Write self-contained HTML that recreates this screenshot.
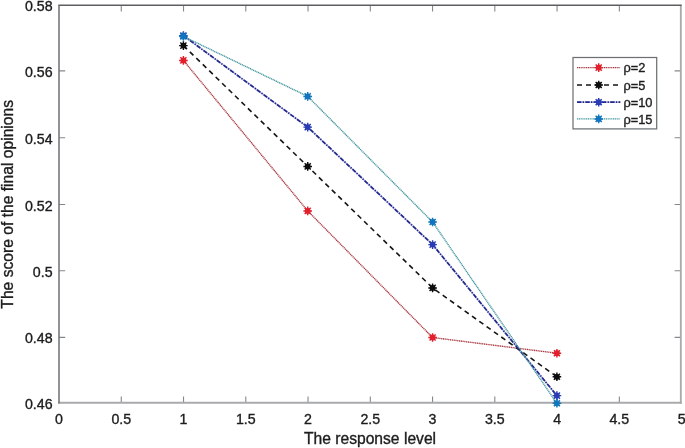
<!DOCTYPE html>
<html><head><meta charset="utf-8"><title>Chart</title>
<style>
html,body{margin:0;padding:0;background:#fff;}
svg{display:block;}
text{font-family:"Liberation Sans",sans-serif;fill:#1c1c1c;stroke:#1c1c1c;stroke-width:0.35px;}
.t{font-size:14.2px;}
.l{font-size:15.65px;}
.g{font-size:12.8px;}
</style></head><body>
<svg width="685" height="448" viewBox="0 0 685 448">
<rect x="0" y="0" width="685" height="448" fill="#ffffff"/>

<path d="M121.26 402.75V396.55M121.26 5.3V11.5M183.52 402.75V396.55M183.52 5.3V11.5M245.78 402.75V396.55M245.78 5.3V11.5M308.04 402.75V396.55M308.04 5.3V11.5M370.30 402.75V396.55M370.30 5.3V11.5M432.56 402.75V396.55M432.56 5.3V11.5M494.82 402.75V396.55M494.82 5.3V11.5M557.08 402.75V396.55M557.08 5.3V11.5M619.34 402.75V396.55M619.34 5.3V11.5M59.0 337.40H65.2M680.8 337.40H674.5999999999999M59.0 270.70H65.2M680.8 270.70H674.5999999999999M59.0 204.50H65.2M680.8 204.50H674.5999999999999M59.0 137.70H65.2M680.8 137.70H674.5999999999999M59.0 70.90H65.2M680.8 70.90H674.5999999999999" fill="none" stroke="#85888b" stroke-width="1.1"/>
<path d="M58.3 402.75H681.6999999999999" stroke="#a8aaac" stroke-width="1.9" fill="none"/>
<path d="M680.8 5.3V403.65" stroke="#a6a8aa" stroke-width="1.8" fill="none"/>
<path d="M58.3 5.3H681.6999999999999" stroke="#5c5e60" stroke-width="1.5" fill="none"/>
<path d="M59.0 5.3V403.45" stroke="#6c7074" stroke-width="1.5" fill="none"/>
<text class="t" x="59.00" y="424.0" text-anchor="middle">0</text>
<text class="t" x="121.26" y="424.0" text-anchor="middle">0.5</text>
<text class="t" x="183.52" y="424.0" text-anchor="middle">1</text>
<text class="t" x="245.78" y="424.0" text-anchor="middle">1.5</text>
<text class="t" x="308.04" y="424.0" text-anchor="middle">2</text>
<text class="t" x="370.30" y="424.0" text-anchor="middle">2.5</text>
<text class="t" x="432.56" y="424.0" text-anchor="middle">3</text>
<text class="t" x="494.82" y="424.0" text-anchor="middle">3.5</text>
<text class="t" x="557.08" y="424.0" text-anchor="middle">4</text>
<text class="t" x="619.34" y="424.0" text-anchor="middle">4.5</text>
<text class="t" x="681.60" y="424.0" text-anchor="middle">5</text>
<text class="t" x="52.6" y="409.30" text-anchor="end">0.46</text>
<text class="t" x="52.6" y="343.00" text-anchor="end">0.48</text>
<text class="t" x="52.6" y="276.75" text-anchor="end">0.5</text>
<text class="t" x="52.6" y="210.70" text-anchor="end">0.52</text>
<text class="t" x="52.6" y="143.90" text-anchor="end">0.54</text>
<text class="t" x="52.6" y="77.30" text-anchor="end">0.56</text>
<text class="t" x="52.6" y="10.95" text-anchor="end">0.58</text>
<text class="l" x="370" y="444.4" text-anchor="middle">The response level</text>
<text class="l" style="font-size:15.65px" transform="translate(13.0 204.3) rotate(-90)" text-anchor="middle">The score of the final opinions</text>
<polyline points="183.40,60.40 307.70,210.90 432.60,337.50 556.90,353.20" fill="none" stroke="#a83a42" stroke-width="1.4" stroke-dasharray="1.2 0.6"/>
<polyline points="183.40,45.60 307.70,166.40 432.60,287.90 556.90,376.80" fill="none" stroke="#151515" stroke-width="1.6" stroke-dasharray="5 4"/>
<polyline points="183.40,35.60 307.70,127.10 432.60,244.60 556.90,395.60" fill="none" stroke="#22288e" stroke-width="1.7" stroke-opacity="0.28"/>
<polyline points="183.40,35.60 307.70,127.10 432.60,244.60 556.90,395.60" fill="none" stroke="#22288e" stroke-width="1.7" stroke-dasharray="4.4 1.3 1.3 1.3"/>
<polyline points="183.40,36.40 307.70,96.40 432.60,222.00 556.90,403.30" fill="none" stroke="#43969f" stroke-width="1.4" stroke-dasharray="1.2 0.6"/>
<path d="M179.10 60.40H187.70M183.40 56.10V64.70M180.36 57.36L186.44 63.44M180.36 63.44L186.44 57.36" stroke="#e0202c" stroke-width="1.45" fill="none"/><circle cx="183.40" cy="60.40" r="2.9" fill="#e0202c"/>
<path d="M303.40 210.90H312.00M307.70 206.60V215.20M304.66 207.86L310.74 213.94M304.66 213.94L310.74 207.86" stroke="#e0202c" stroke-width="1.45" fill="none"/><circle cx="307.70" cy="210.90" r="2.9" fill="#e0202c"/>
<path d="M428.30 337.50H436.90M432.60 333.20V341.80M429.56 334.46L435.64 340.54M429.56 340.54L435.64 334.46" stroke="#e0202c" stroke-width="1.45" fill="none"/><circle cx="432.60" cy="337.50" r="2.9" fill="#e0202c"/>
<path d="M552.60 353.20H561.20M556.90 348.90V357.50M553.86 350.16L559.94 356.24M553.86 356.24L559.94 350.16" stroke="#e0202c" stroke-width="1.45" fill="none"/><circle cx="556.90" cy="353.20" r="2.9" fill="#e0202c"/>
<path d="M179.10 45.60H187.70M183.40 41.30V49.90M180.36 42.56L186.44 48.64M180.36 48.64L186.44 42.56" stroke="#0c0c0c" stroke-width="1.45" fill="none"/><circle cx="183.40" cy="45.60" r="2.9" fill="#0c0c0c"/>
<path d="M303.40 166.40H312.00M307.70 162.10V170.70M304.66 163.36L310.74 169.44M304.66 169.44L310.74 163.36" stroke="#0c0c0c" stroke-width="1.45" fill="none"/><circle cx="307.70" cy="166.40" r="2.9" fill="#0c0c0c"/>
<path d="M428.30 287.90H436.90M432.60 283.60V292.20M429.56 284.86L435.64 290.94M429.56 290.94L435.64 284.86" stroke="#0c0c0c" stroke-width="1.45" fill="none"/><circle cx="432.60" cy="287.90" r="2.9" fill="#0c0c0c"/>
<path d="M552.60 376.80H561.20M556.90 372.50V381.10M553.86 373.76L559.94 379.84M553.86 379.84L559.94 373.76" stroke="#0c0c0c" stroke-width="1.45" fill="none"/><circle cx="556.90" cy="376.80" r="2.9" fill="#0c0c0c"/>
<path d="M179.10 35.60H187.70M183.40 31.30V39.90M180.36 32.56L186.44 38.64M180.36 38.64L186.44 32.56" stroke="#2a3cb4" stroke-width="1.45" fill="none"/><circle cx="183.40" cy="35.60" r="2.9" fill="#2a3cb4"/>
<path d="M303.40 127.10H312.00M307.70 122.80V131.40M304.66 124.06L310.74 130.14M304.66 130.14L310.74 124.06" stroke="#2a3cb4" stroke-width="1.45" fill="none"/><circle cx="307.70" cy="127.10" r="2.9" fill="#2a3cb4"/>
<path d="M428.30 244.60H436.90M432.60 240.30V248.90M429.56 241.56L435.64 247.64M429.56 247.64L435.64 241.56" stroke="#2a3cb4" stroke-width="1.45" fill="none"/><circle cx="432.60" cy="244.60" r="2.9" fill="#2a3cb4"/>
<path d="M552.60 395.60H561.20M556.90 391.30V399.90M553.86 392.56L559.94 398.64M553.86 398.64L559.94 392.56" stroke="#2a3cb4" stroke-width="1.45" fill="none"/><circle cx="556.90" cy="395.60" r="2.9" fill="#2a3cb4"/>
<path d="M179.10 36.40H187.70M183.40 32.10V40.70M180.36 33.36L186.44 39.44M180.36 39.44L186.44 33.36" stroke="#1274bc" stroke-width="1.45" fill="none"/><circle cx="183.40" cy="36.40" r="2.9" fill="#1274bc"/>
<path d="M303.40 96.40H312.00M307.70 92.10V100.70M304.66 93.36L310.74 99.44M304.66 99.44L310.74 93.36" stroke="#1274bc" stroke-width="1.45" fill="none"/><circle cx="307.70" cy="96.40" r="2.9" fill="#1274bc"/>
<path d="M428.30 222.00H436.90M432.60 217.70V226.30M429.56 218.96L435.64 225.04M429.56 225.04L435.64 218.96" stroke="#1274bc" stroke-width="1.45" fill="none"/><circle cx="432.60" cy="222.00" r="2.9" fill="#1274bc"/>
<path d="M552.60 403.30H561.20M556.90 399.00V407.60M553.86 400.26L559.94 406.34M553.86 406.34L559.94 400.26" stroke="#1274bc" stroke-width="1.45" fill="none"/><circle cx="556.90" cy="403.30" r="2.9" fill="#1274bc"/>
<rect x="573.0" y="57.5" width="83.70000000000005" height="71.4" fill="#fff" stroke="#6e7174" stroke-width="1.25"/>
<line x1="577" y1="67.6" x2="620.3" y2="67.6" stroke="#a83a42" stroke-width="1.4" stroke-dasharray="1.2 0.6"/>
<path d="M594.40 67.60H603.00M598.70 63.30V71.90M595.66 64.56L601.74 70.64M595.66 70.64L601.74 64.56" stroke="#e0202c" stroke-width="1.45" fill="none"/><circle cx="598.70" cy="67.60" r="2.9" fill="#e0202c"/>
<text class="g" x="623.4" y="72.20">ρ=2</text>
<line x1="577" y1="85.0" x2="620.3" y2="85.0" stroke="#151515" stroke-width="1.6" stroke-dasharray="5 4"/>
<path d="M594.40 85.00H603.00M598.70 80.70V89.30M595.66 81.96L601.74 88.04M595.66 88.04L601.74 81.96" stroke="#0c0c0c" stroke-width="1.45" fill="none"/><circle cx="598.70" cy="85.00" r="2.9" fill="#0c0c0c"/>
<text class="g" x="623.4" y="89.60">ρ=5</text>
<line x1="577" y1="102.2" x2="620.3" y2="102.2" stroke="#22288e" stroke-width="1.7" stroke-opacity="0.28"/>
<line x1="577" y1="102.2" x2="620.3" y2="102.2" stroke="#22288e" stroke-width="1.7" stroke-dasharray="4.4 1.3 1.3 1.3"/>
<path d="M594.40 102.20H603.00M598.70 97.90V106.50M595.66 99.16L601.74 105.24M595.66 105.24L601.74 99.16" stroke="#2a3cb4" stroke-width="1.45" fill="none"/><circle cx="598.70" cy="102.20" r="2.9" fill="#2a3cb4"/>
<text class="g" x="623.4" y="106.80">ρ=10</text>
<line x1="577" y1="118.9" x2="620.3" y2="118.9" stroke="#43969f" stroke-width="1.4" stroke-dasharray="1.2 0.6"/>
<path d="M594.40 118.90H603.00M598.70 114.60V123.20M595.66 115.86L601.74 121.94M595.66 121.94L601.74 115.86" stroke="#1274bc" stroke-width="1.45" fill="none"/><circle cx="598.70" cy="118.90" r="2.9" fill="#1274bc"/>
<text class="g" x="623.4" y="123.50">ρ=15</text>
</svg></body></html>
